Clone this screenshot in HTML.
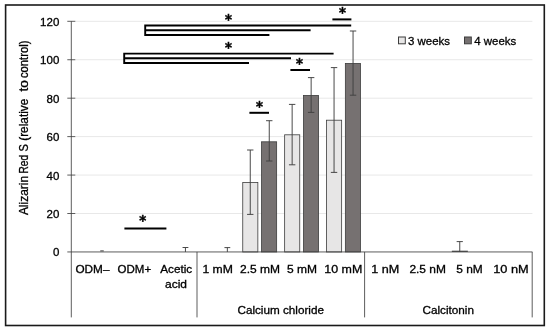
<!DOCTYPE html>
<html><head><meta charset="utf-8"><title>Alizarin Red S chart</title>
<style>html,body{margin:0;padding:0;background:#fff}body{width:550px;height:332px;overflow:hidden}svg{display:block}text{font-family:"Liberation Sans",Arial,sans-serif;fill:#000;stroke:#000;stroke-width:0.3px}text.st{stroke-width:0.5px;font-family:"DejaVu Sans","Liberation Sans",sans-serif;font-weight:bold}</style></head><body>
<svg width="550" height="332" viewBox="0 0 550 332">
<rect x="0" y="0" width="550" height="332" fill="#fff"/>
<rect x="5.6" y="5.0" width="538.7" height="320.5" fill="none" stroke="#1a1a1a" stroke-width="1.6"/>
<line x1="75.3" x2="532.4" y1="213.51" y2="213.51" stroke="#e8e8e8" stroke-width="1"/>
<line x1="75.3" x2="532.4" y1="175.07" y2="175.07" stroke="#e8e8e8" stroke-width="1"/>
<line x1="75.3" x2="532.4" y1="136.62" y2="136.62" stroke="#e8e8e8" stroke-width="1"/>
<line x1="75.3" x2="532.4" y1="98.18" y2="98.18" stroke="#e8e8e8" stroke-width="1"/>
<line x1="75.3" x2="532.4" y1="59.74" y2="59.74" stroke="#e8e8e8" stroke-width="1"/>
<line x1="75.3" x2="532.4" y1="21.30" y2="21.30" stroke="#e8e8e8" stroke-width="1"/>
<rect x="242.75" y="182.40" width="15.1" height="69.55" fill="#e7e6e6" stroke="#3c3c3c" stroke-width="0.8"/>
<rect x="261.55" y="141.80" width="15.1" height="110.15" fill="#767171" stroke="#3c3c3c" stroke-width="0.8"/>
<rect x="284.65" y="134.80" width="15.1" height="117.15" fill="#e7e6e6" stroke="#3c3c3c" stroke-width="0.8"/>
<rect x="303.45" y="95.40" width="15.1" height="156.55" fill="#767171" stroke="#3c3c3c" stroke-width="0.8"/>
<rect x="326.55" y="120.20" width="15.1" height="131.75" fill="#e7e6e6" stroke="#3c3c3c" stroke-width="0.8"/>
<rect x="345.35" y="63.40" width="15.1" height="188.55" fill="#767171" stroke="#3c3c3c" stroke-width="0.8"/>
<path d="M250.25 150.00V214.40M247.05 150.00H253.45M247.05 214.40H253.45" stroke="#404040" stroke-width="0.95" fill="none"/>
<path d="M269.25 120.70V161.00M266.05 120.70H272.45M266.05 161.00H272.45" stroke="#404040" stroke-width="0.95" fill="none"/>
<path d="M292.15 104.40V164.80M288.95 104.40H295.35M288.95 164.80H295.35" stroke="#404040" stroke-width="0.95" fill="none"/>
<path d="M311.15 77.60V112.40M307.95 77.60H314.35M307.95 112.40H314.35" stroke="#404040" stroke-width="0.95" fill="none"/>
<path d="M334.05 67.60V172.40M330.85 67.60H337.25M330.85 172.40H337.25" stroke="#404040" stroke-width="0.95" fill="none"/>
<path d="M353.05 31.00V95.20M349.85 31.00H356.25M349.85 95.20H356.25" stroke="#404040" stroke-width="0.95" fill="none"/>
<path d="M185.45 247.50V251.95M182.55 247.50H188.35" stroke="#404040" stroke-width="0.95" fill="none"/>
<path d="M227.35 247.60V251.95M224.45 247.60H230.25" stroke="#404040" stroke-width="0.95" fill="none"/>
<path d="M459.75 241.60V251.95M456.65 241.60H462.85" stroke="#404040" stroke-width="0.95" fill="none"/>
<line x1="100.25" x2="103.75" y1="250.9" y2="250.9" stroke="#404040" stroke-width="1"/>
<line x1="451.85" x2="467.85" y1="251.3" y2="251.3" stroke="#404040" stroke-width="1.2"/>
<line x1="71.3" x2="71.3" y1="21.3" y2="317.4" stroke="#404040" stroke-width="0.85"/>
<line x1="67.3" x2="532.4" y1="251.95" y2="251.95" stroke="#404040" stroke-width="0.85"/>
<line x1="67.3" x2="75.3" y1="213.51" y2="213.51" stroke="#404040" stroke-width="0.85"/>
<line x1="67.3" x2="75.3" y1="175.07" y2="175.07" stroke="#404040" stroke-width="0.85"/>
<line x1="67.3" x2="75.3" y1="136.62" y2="136.62" stroke="#404040" stroke-width="0.85"/>
<line x1="67.3" x2="75.3" y1="98.18" y2="98.18" stroke="#404040" stroke-width="0.85"/>
<line x1="67.3" x2="75.3" y1="59.74" y2="59.74" stroke="#404040" stroke-width="0.85"/>
<line x1="67.3" x2="75.3" y1="21.30" y2="21.30" stroke="#404040" stroke-width="0.85"/>
<line x1="197.00" x2="197.00" y1="251.95" y2="317.4" stroke="#404040" stroke-width="0.85"/>
<line x1="364.60" x2="364.60" y1="251.95" y2="317.4" stroke="#404040" stroke-width="0.85"/>
<line x1="532.20" x2="532.20" y1="251.95" y2="317.4" stroke="#404040" stroke-width="0.85"/>
<text x="59.3" y="256.45" font-size="11.5" text-anchor="end">0</text>
<text x="59.3" y="218.01" font-size="11.5" text-anchor="end">20</text>
<text x="59.3" y="179.57" font-size="11.5" text-anchor="end">40</text>
<text x="59.3" y="141.12" font-size="11.5" text-anchor="end">60</text>
<text x="59.3" y="102.68" font-size="11.5" text-anchor="end">80</text>
<text x="59.3" y="64.24" font-size="11.5" text-anchor="end">100</text>
<text x="59.3" y="25.80" font-size="11.5" text-anchor="end">120</text>
<g font-size="12">
<text transform="translate(28.3,215.1) rotate(-90)" textLength="39.2" lengthAdjust="spacingAndGlyphs">Alizarin</text>
<text transform="translate(28.3,173.5) rotate(-90)" textLength="18.5" lengthAdjust="spacingAndGlyphs">Red</text>
<text transform="translate(28.3,151.4) rotate(-90)" textLength="7.4" lengthAdjust="spacingAndGlyphs">S</text>
<text transform="translate(28.3,140.8) rotate(-90)" textLength="42.2" lengthAdjust="spacingAndGlyphs">(relative</text>
<text transform="translate(28.3,91.6) rotate(-90)" textLength="11.4" lengthAdjust="spacingAndGlyphs">to</text>
<text transform="translate(28.3,78.0) rotate(-90)" textLength="37.4" lengthAdjust="spacingAndGlyphs">control)</text>
</g>
<text x="92.45" y="272.7" font-size="11" text-anchor="middle" textLength="34" lengthAdjust="spacingAndGlyphs">ODM–</text>
<text x="134.35" y="272.7" font-size="11" text-anchor="middle" textLength="33.5" lengthAdjust="spacingAndGlyphs">ODM+</text>
<text x="176.25" y="272.7" font-size="11" text-anchor="middle" textLength="32" lengthAdjust="spacingAndGlyphs">Acetic</text>
<text x="217.65" y="272.7" font-size="11" text-anchor="middle" textLength="30.5" lengthAdjust="spacingAndGlyphs">1 mM</text>
<text x="260.05" y="272.7" font-size="11" text-anchor="middle" textLength="40" lengthAdjust="spacingAndGlyphs">2.5 mM</text>
<text x="301.95" y="272.7" font-size="11" text-anchor="middle" textLength="30" lengthAdjust="spacingAndGlyphs">5 mM</text>
<text x="343.35" y="272.7" font-size="11" text-anchor="middle" textLength="38" lengthAdjust="spacingAndGlyphs">10 mM</text>
<text x="385.25" y="272.7" font-size="11" text-anchor="middle" textLength="28" lengthAdjust="spacingAndGlyphs">1 nM</text>
<text x="427.65" y="272.7" font-size="11" text-anchor="middle" textLength="36.5" lengthAdjust="spacingAndGlyphs">2.5 nM</text>
<text x="469.55" y="272.7" font-size="11" text-anchor="middle" textLength="26.5" lengthAdjust="spacingAndGlyphs">5 nM</text>
<text x="510.95" y="272.7" font-size="11" text-anchor="middle" textLength="35.5" lengthAdjust="spacingAndGlyphs">10 nM</text>
<text x="176.05" y="288" font-size="11" text-anchor="middle" textLength="22" lengthAdjust="spacingAndGlyphs">acid</text>
<text x="280.7" y="313.6" font-size="11" text-anchor="middle" textLength="86.5" lengthAdjust="spacingAndGlyphs">Calcium chloride</text>
<text x="448.2" y="313.6" font-size="11" text-anchor="middle" textLength="51.5" lengthAdjust="spacingAndGlyphs">Calcitonin</text>
<rect x="398.5" y="37" width="6.8" height="6.8" fill="#e7e6e6" stroke="#3c3c3c" stroke-width="1"/>
<rect x="464.5" y="37" width="6.8" height="6.8" fill="#767171" stroke="#3c3c3c" stroke-width="1"/>
<text x="408" y="44.9" font-size="11.7" textLength="42" lengthAdjust="spacingAndGlyphs">3 weeks</text>
<text x="474.3" y="44.9" font-size="11.7" textLength="42" lengthAdjust="spacingAndGlyphs">4 weeks</text>
<path d="M351.2 25.5H145.2V35H269.4M145.2 30.2H310.6" stroke="#000" stroke-width="1.9" fill="none"/>
<path d="M333.6 53.6H124.2V63H249M124.2 58.3H291" stroke="#000" stroke-width="1.9" fill="none"/>
<line x1="332.4" x2="351.4" y1="19.4" y2="19.4" stroke="#000" stroke-width="2"/>
<line x1="290.4" x2="310" y1="70" y2="70" stroke="#000" stroke-width="2"/>
<line x1="249.4" x2="269" y1="112.8" y2="112.8" stroke="#000" stroke-width="2"/>
<line x1="124.4" x2="166.4" y1="228.4" y2="228.4" stroke="#000" stroke-width="2"/>
<text class="st" x="228.5" y="23.8" font-size="13.3" text-anchor="middle">*</text>
<text class="st" x="228.5" y="52.4" font-size="13.3" text-anchor="middle">*</text>
<text class="st" x="299.5" y="67.8" font-size="13.3" text-anchor="middle">*</text>
<text class="st" x="342.5" y="16.9" font-size="13.3" text-anchor="middle">*</text>
<text class="st" x="259.5" y="110.9" font-size="13.3" text-anchor="middle">*</text>
<text class="st" x="142.8" y="225.2" font-size="13.3" text-anchor="middle">*</text>
</svg></body></html>
